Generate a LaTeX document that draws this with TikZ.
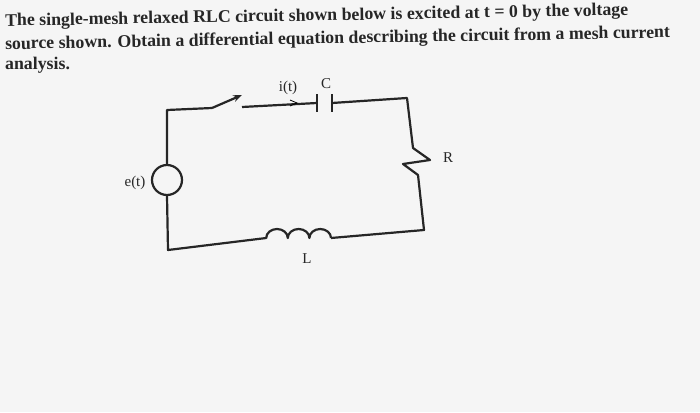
\documentclass[tikz,border=0pt]{standalone}
\usepackage{fontspec}
\setmainfont{Liberation Serif}
\usetikzlibrary{arrows.meta}
\begin{document}
\begin{tikzpicture}[x=1pt,y=-1pt,
  w/.style={line width=2.2pt,line join=round,draw=black!85},
  txt/.style={font=\fontsize{17.8}{19}\selectfont\bfseries,anchor=west,inner sep=0pt,text=black!85},
  lbl/.style={font=\fontsize{15}{16}\selectfont,inner sep=0pt,text=black!85}]
\fill[gray!8] (0,0) rectangle (700,412);
\useasboundingbox (0,0) rectangle (700,412);
\node[txt,rotate=1.0] (t1) at (5,22) {The single-mesh relaxed RLC circuit shown below is excited at t = 0 by the voltage};
\node[txt,rotate=1.0] (t2) at (5,45) {source shown. Obtain a differential equation describing the circuit from a mesh current};
\node[txt] (t3) at (5,65) {analysis.};
% source
\node[circle,w,minimum size=30pt,inner sep=0pt] (src) at (167,180) {};
\coordinate (tl) at (167,110);
\coordinate (sp) at (212,108);
\coordinate (st) at (242,95);
\coordinate (s2) at (242,107);
\coordinate (c1) at (317,103);
\coordinate (c2) at (332,103);
\coordinate (tr) at (407,98);
\coordinate (bl) at (168,250);
\coordinate (br) at (424,230);
\coordinate (l2) at (331,238);
\draw[w] (src.north) -- (tl) -- (sp);
\draw[w,-{Stealth[length=9pt,width=7pt]}] (sp) -- (st);
\draw[w] (s2) -- (c1);
\draw[w] (c1)++(0,-9) -- ++(0,18);
\draw[w] (c2)++(0,-9) -- ++(0,18);
\draw[w] (c2) -- (tr) -- (413,148) -- (430,160) -- (403,164) -- (418,175) -- (br) -- (l2);
\draw[w] (l2) arc[start angle=0,end angle=180,x radius=10.8pt,y radius=9pt]
  arc[start angle=0,end angle=180,x radius=10.8pt,y radius=9pt]
  arc[start angle=0,end angle=180,x radius=10.8pt,y radius=9pt] -- (bl) -- (src.south);
\draw[line width=0.8pt] (290,106) -- (297,103) -- (290,100);
\node[lbl] (i) at (288,88) {i(t)};
\node[lbl] (C) at (326,84) {C};
\node[lbl] (R) at (448,158) {R};
\node[lbl] (e) at (135,183) {e(t)};
\node[lbl] (L) at (307,259) {L};
\end{tikzpicture}
\end{document}
